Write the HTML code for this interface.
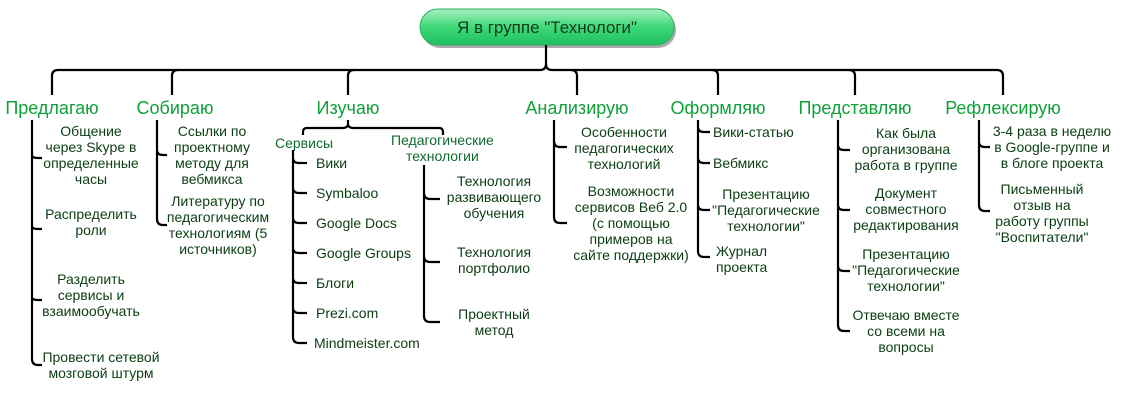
<!DOCTYPE html>
<html><head><meta charset="utf-8"><style>
body{margin:0;background:#fff;}
svg{display:block;font-family:"Liberation Sans",sans-serif;}
.t{font-size:14px;fill:#0b3d12;text-anchor:middle}
.l{font-size:14px;fill:#0b3d12}
.h{font-size:18px;fill:#10a03a;text-anchor:middle}
.s{font-size:14px;fill:#0f6a30}
path{fill:none;stroke:#000;stroke-width:2.2}
</style></head><body>
<svg width="1134" height="416" viewBox="0 0 1134 416">
<defs><linearGradient id="g" x1="0" y1="0" x2="0" y2="1"><stop offset="0" stop-color="#a8f0c0"/><stop offset="0.5" stop-color="#3ed878"/><stop offset="1" stop-color="#1ec060"/></linearGradient></defs>
<rect x="422" y="12" width="254" height="36" rx="18" fill="#aaa"/>
<rect x="420" y="9" width="254" height="36" rx="18" fill="url(#g)" stroke="#2bb060"/>
<text x="547" y="33" style="font-size:17px;fill:#113a1a;text-anchor:middle">Я в группе "Технологи"</text>
<path d="M546 45 V64 Q546 70 540 70 H58 Q52 70 52 76 V95"/>
<path d="M546 64 Q546 70 552 70 H997 Q1003 70 1003 76 V95"/>
<path d="M172 95 V76 Q172 70 178 70"/>
<path d="M348 95 V76 Q348 70 354 70"/>
<path d="M577 95 V76 Q577 70 571 70"/>
<path d="M718 95 V76 Q718 70 712 70"/>
<path d="M855 95 V76 Q855 70 849 70"/>
<text class="h" x="52" y="114">Предлагаю</text>
<text class="h" x="175" y="114">Собираю</text>
<text class="h" x="348" y="114">Изучаю</text>
<text class="h" x="577" y="114">Анализирую</text>
<text class="h" x="718" y="114">Оформляю</text>
<text class="h" x="855" y="114">Представляю</text>
<text class="h" x="1003" y="114">Рефлексирую</text>
<!-- Предлагаю -->
<path d="M32 120 V359 Q32 365 38 365 H42 M32 155 Q32 158 38 158 H42 M32 226 Q32 229 38 229 H42 M32 297 Q32 300 38 300 H42"/>
<text class="t" x="91" y="136">Общение</text><text class="t" x="91" y="152">через Skype в</text><text class="t" x="91" y="168">определенные</text><text class="t" x="91" y="184">часы</text>
<text class="t" x="91" y="219">Распределить</text><text class="t" x="91" y="235">роли</text>
<text class="t" x="91" y="284">Разделить</text><text class="t" x="91" y="300">сервисы и</text><text class="t" x="91" y="316">взаимообучать</text>
<text class="t" x="101" y="362">Провести сетевой</text><text class="t" x="101" y="378">мозговой штурм</text>
<!-- Собираю -->
<path d="M157 120 V150 Q157 155 163 155 H167 M157 150 V219 Q157 225 163 225 H167"/>
<text class="t" x="212" y="136">Ссылки по</text><text class="t" x="212" y="152">проектному</text><text class="t" x="212" y="168">методу для</text><text class="t" x="212" y="184">вебмикса</text>
<text class="t" x="218" y="206">Литературу по</text><text class="t" x="218" y="222">педагогическим</text><text class="t" x="218" y="238">технологиям (5</text><text class="t" x="218" y="254">источников)</text>
<!-- Изучаю -->
<path d="M348 120 V124 Q348 128 342 128 H307 Q303 128 303 132 V135 M348 124 Q348 128 354 128 H439 Q443 128 443 132 V135"/>
<text class="s" x="275" y="148">Сервисы</text>
<text class="s" x="391" y="145">Педагогические</text><text class="s" x="406" y="161">технологии</text>
<path d="M293 150 V337 Q293 343 299 343 H307 M293 158 Q293 163 299 163 H307 M293 188 Q293 193 299 193 H307 M293 218 Q293 223 299 223 H307 M293 248 Q293 253 299 253 H307 M293 278 Q293 283 299 283 H307 M293 308 Q293 313 299 313 H307"/>
<text class="l" x="316" y="168">Вики</text><text class="l" x="316" y="198">Symbaloo</text><text class="l" x="316" y="228">Google Docs</text><text class="l" x="316" y="258">Google Groups</text><text class="l" x="316" y="288">Блоги</text><text class="l" x="316" y="318">Prezi.com</text><text class="l" x="314" y="348">Mindmeister.com</text>
<path d="M424 165 V316 Q424 322 430 322 H440 M424 193 Q424 199 430 199 H440 M424 256 Q424 262 430 262 H440"/>
<text class="t" x="494" y="186">Технология</text><text class="t" x="494" y="202">развивающего</text><text class="t" x="494" y="218">обучения</text>
<text class="t" x="494" y="257">Технология</text><text class="t" x="494" y="273">портфолио</text>
<text class="t" x="494" y="319">Проектный</text><text class="t" x="494" y="335">метод</text>
<!-- Анализирую -->
<path d="M554 120 V141 Q554 147 560 147 H567 M554 141 V217 Q554 223 560 223 H567"/>
<text class="t" x="624" y="137">Особенности</text><text class="t" x="624" y="153">педагогических</text><text class="t" x="624" y="169">технологий</text>
<text class="t" x="631" y="196">Возможности</text><text class="t" x="631" y="212">сервисов Веб 2.0</text><text class="t" x="631" y="228">(с помощью</text><text class="t" x="631" y="244">примеров на</text><text class="t" x="631" y="260">сайте поддержки)</text>
<!-- Оформляю -->
<path d="M698 120 V251 Q698 257 704 257 H710 M698 127 Q698 132 704 132 H710 M698 158 Q698 163 704 163 H710 M698 205 Q698 210 704 210 H710"/>
<text class="l" x="713" y="137">Вики-статью</text><text class="l" x="713" y="168">Вебмикс</text>
<text class="t" x="766" y="199">Презентацию</text><text class="t" x="766" y="215">"Педагогические</text><text class="t" x="766" y="231">технологии"</text>
<text class="l" x="716" y="256">Журнал</text><text class="l" x="716" y="272">проекта</text>
<!-- Представляю -->
<path d="M838 120 V325 Q838 331 844 331 H850 M838 145 Q838 150 844 150 H850 M838 205 Q838 210 844 210 H850 M838 266 Q838 271 844 271 H850"/>
<text class="t" x="906" y="138">Как была</text><text class="t" x="906" y="154">организована</text><text class="t" x="906" y="170">работа в группе</text>
<text class="t" x="906" y="198">Документ</text><text class="t" x="906" y="214">совместного</text><text class="t" x="906" y="230">редактирования</text>
<text class="t" x="906" y="259">Презентацию</text><text class="t" x="906" y="275">"Педагогические</text><text class="t" x="906" y="291">технологии"</text>
<text class="t" x="906" y="320">Отвечаю вместе</text><text class="t" x="906" y="336">со всеми на</text><text class="t" x="906" y="352">вопросы</text>
<!-- Рефлексирую -->
<path d="M979 120 V142 Q979 147 985 147 H990 M979 142 V205 Q979 211 985 211 H990"/>
<text class="t" x="1052" y="136">3-4 раза в неделю</text><text class="t" x="1052" y="152">в Google-группе и</text><text class="t" x="1052" y="168">в блоге проекта</text>
<text class="t" x="1042" y="194">Письменный</text><text class="t" x="1042" y="210">отзыв на</text><text class="t" x="1042" y="226">работу группы</text><text class="t" x="1042" y="242">"Воспитатели"</text>
</svg>
</body></html>
